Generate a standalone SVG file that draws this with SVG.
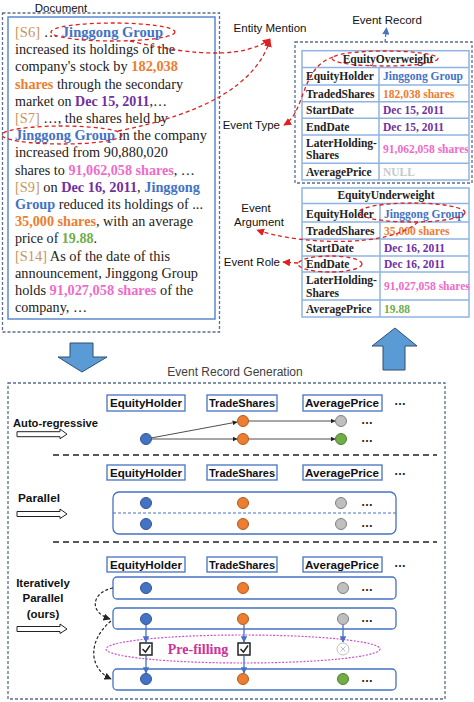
<svg xmlns="http://www.w3.org/2000/svg" width="474" height="702" viewBox="0 0 474 702">
<defs>
<style>
.doc{font-family:"Liberation Serif","Times New Roman",serif;font-size:14.5px;fill:#222}
.tb{font-family:"Liberation Serif","Times New Roman",serif;font-size:11.5px;font-weight:bold;fill:#222}
.sl{fill:#C8955C}
.bl{fill:#4472C4;font-weight:bold}
.or{fill:#ED7D31;font-weight:bold}
.pu{fill:#7030A0;font-weight:bold}
.pk{fill:#F06BC9;font-weight:bold}
.gr{fill:#70AD47;font-weight:bold}
.nu{fill:#C8C8C8;font-weight:bold}
.lab{font-family:"Liberation Sans",Arial,sans-serif;font-size:11.5px;fill:#111}
.sec{font-family:"Liberation Sans",Arial,sans-serif;font-size:11.5px;font-weight:bold;fill:#111}
.gen{font-family:"Liberation Sans",Arial,sans-serif;font-size:12px;fill:#404040}
.ob{fill:none;stroke:#5A6E8C;stroke-width:1.3;stroke-dasharray:3 2}
.tbl{fill:#fff;stroke:#8EB4E3;stroke-width:1.5}
.red{fill:none;stroke:#E02020;stroke-width:1.3;stroke-dasharray:4 3}
.kb{fill:#fff;stroke:#4472C4;stroke-width:1.3}
.row{fill:#fff;stroke:#4472C4;stroke-width:1.3}
.nb{fill:#4472C4;stroke:#2F5597;stroke-width:1}
.no{fill:#ED7D31;stroke:#AE5A21;stroke-width:1}
.ng{fill:#BFBFBF;stroke:#7F7F7F;stroke-width:1}
.nn{fill:#70AD47;stroke:#507E32;stroke-width:1}
.sep{stroke:#222;stroke-width:1.5;stroke-dasharray:6 4}
.dots{font-family:"Liberation Sans",Arial,sans-serif;font-size:12px;font-weight:bold;fill:#222}
.hol{fill:#fff;stroke:#222;stroke-width:1}
.blk{fill:#5B9BD5;stroke:#2E4F70;stroke-width:1}
</style>
<marker id="mr" viewBox="0 0 10 10" refX="9" refY="5" markerWidth="6" markerHeight="6" orient="auto"><path d="M0 0 L10 5 L0 10 Z" fill="#E02020"/></marker>
<marker id="mk" viewBox="0 0 10 10" refX="9" refY="5" markerWidth="6" markerHeight="6" orient="auto"><path d="M0 0 L10 5 L0 10 Z" fill="#222"/></marker>
<marker id="mb" viewBox="0 0 10 10" refX="9" refY="5" markerWidth="5" markerHeight="5" orient="auto"><path d="M0 0 L10 5 L0 10 Z" fill="#4472C4"/></marker>
<marker id="mu" viewBox="0 0 10 10" refX="9" refY="5" markerWidth="6" markerHeight="6" orient="auto"><path d="M0 0 L10 5 L0 10 Z" fill="#4472C4"/></marker>
</defs>
<rect width="474" height="702" fill="#fff"/>

<g id="document">
<text x="61" y="12" class="lab" text-anchor="middle" font-size="12">Document</text>
<rect x="2.5" y="13" width="217" height="319" class="ob"/>
<rect x="8" y="17" width="207" height="302" fill="none" stroke="#5B8BD0" stroke-width="1.5"/>
<text class="doc" x="15" y="37" textLength="148" lengthAdjust="spacingAndGlyphs"><tspan class="sl">[S6]</tspan> … <tspan class="bl">Jinggong Group</tspan></text>
<text class="doc" x="15" y="54.2" textLength="160" lengthAdjust="spacingAndGlyphs">increased its holdings of the</text>
<text class="doc" x="15" y="71.4" textLength="163" lengthAdjust="spacingAndGlyphs">company's stock by <tspan class="or">182,038</tspan></text>
<text class="doc" x="15" y="88.6" textLength="168" lengthAdjust="spacingAndGlyphs"><tspan class="or">shares</tspan> through the secondary</text>
<text class="doc" x="15" y="105.8" textLength="152" lengthAdjust="spacingAndGlyphs">market on <tspan class="pu">Dec 15, 2011</tspan>,…</text>
<text class="doc" x="15" y="123" textLength="153" lengthAdjust="spacingAndGlyphs"><tspan class="sl">[S7]</tspan> …, the shares held by</text>
<text class="doc" x="15" y="140.2" textLength="192" lengthAdjust="spacingAndGlyphs"><tspan class="bl">Jinggong Group</tspan> in the company</text>
<text class="doc" x="15" y="157.4" textLength="153" lengthAdjust="spacingAndGlyphs">increased from 90,880,020</text>
<text class="doc" x="15" y="174.6" textLength="180" lengthAdjust="spacingAndGlyphs">shares to <tspan class="pk">91,062,058 shares</tspan>, …</text>
<text class="doc" x="15" y="191.8" textLength="185" lengthAdjust="spacingAndGlyphs"><tspan class="sl">[S9]</tspan> on <tspan class="pu">Dec 16, 2011</tspan>, <tspan class="bl">Jinggong</tspan></text>
<text class="doc" x="15" y="209" textLength="188" lengthAdjust="spacingAndGlyphs"><tspan class="bl">Group</tspan> reduced its holdings of ...</text>
<text class="doc" x="15" y="226.2" textLength="178" lengthAdjust="spacingAndGlyphs"><tspan class="or">35,000 shares</tspan>, with an average</text>
<text class="doc" x="15" y="243.4" textLength="82" lengthAdjust="spacingAndGlyphs">price of <tspan class="gr">19.88</tspan>.</text>
<text class="doc" x="15" y="260.6" textLength="155" lengthAdjust="spacingAndGlyphs"><tspan class="sl">[S14]</tspan> As of the date of this</text>
<text class="doc" x="15" y="277.8" textLength="183" lengthAdjust="spacingAndGlyphs">announcement, Jinggong Group</text>
<text class="doc" x="15" y="295" textLength="178" lengthAdjust="spacingAndGlyphs">holds <tspan class="pk">91,027,058 shares</tspan> of the</text>
<text class="doc" x="15" y="312.2" textLength="72" lengthAdjust="spacingAndGlyphs">company, …</text>
</g>

<g id="record-overweight">
<text x="387" y="24" class="lab" text-anchor="middle" font-size="12">Event Record</text>
<rect x="295" y="42" width="177" height="141" class="ob"/>
<rect x="302" y="50.7" width="167" height="129.3" class="tbl"/>
<g stroke="#8EB4E3" stroke-width="1.5">
<line x1="302" y1="67.5" x2="469" y2="67.5"/><line x1="302" y1="85" x2="469" y2="85"/><line x1="302" y1="101.7" x2="469" y2="101.7"/><line x1="302" y1="118.3" x2="469" y2="118.3"/><line x1="302" y1="135" x2="469" y2="135"/><line x1="302" y1="163.3" x2="469" y2="163.3"/><line x1="379" y1="67.5" x2="379" y2="180"/>
</g>
<text class="tb" x="388" y="62.5" text-anchor="middle">EquityOverweight</text>
<text class="tb" x="306" y="80">EquityHolder</text>
<text class="tb" x="306" y="97.5">TradedShares</text>
<text class="tb" x="306" y="114">StartDate</text>
<text class="tb" x="306" y="131">EndDate</text>
<text class="tb" x="306" y="146.5">LaterHolding-</text>
<text class="tb" x="306" y="159">Shares</text>
<text class="tb" x="306" y="175.5">AveragePrice</text>
<text class="tb bl" x="383" y="80">Jinggong Group</text>
<text class="tb or" x="383" y="97.5">182,038 shares</text>
<text class="tb pu" x="383" y="114">Dec 15, 2011</text>
<text class="tb pu" x="383" y="131">Dec 15, 2011</text>
<text class="tb pk" x="383" y="153">91,062,058 shares</text>
<text class="tb nu" x="383" y="175.5">NULL</text>
</g>

<g id="record-underweight">
<rect x="302" y="188" width="167" height="129" class="tbl"/>
<g stroke="#8EB4E3" stroke-width="1.5">
<line x1="302" y1="203.5" x2="469" y2="203.5"/><line x1="302" y1="222" x2="469" y2="222"/><line x1="302" y1="239" x2="469" y2="239"/><line x1="302" y1="256" x2="469" y2="256"/><line x1="302" y1="272" x2="469" y2="272"/><line x1="302" y1="300" x2="469" y2="300"/><line x1="380" y1="203.5" x2="380" y2="317"/>
</g>
<text class="tb" x="386" y="199" text-anchor="middle">EquityUnderweight</text>
<text class="tb" x="306" y="217.5">EquityHolder</text>
<text class="tb" x="306" y="234.5">TradedShares</text>
<text class="tb" x="306" y="251.5">StartDate</text>
<text class="tb" x="306" y="268">EndDate</text>
<text class="tb" x="306" y="284">LaterHolding-</text>
<text class="tb" x="306" y="296.5">Shares</text>
<text class="tb" x="306" y="313">AveragePrice</text>
<text class="tb bl" x="384" y="217.5">Jinggong Group</text>
<text class="tb or" x="384" y="234.5">35,000 shares</text>
<text class="tb pu" x="384" y="251.5">Dec 16, 2011</text>
<text class="tb pu" x="384" y="268">Dec 16, 2011</text>
<text class="tb pk" x="384" y="290">91,027,058 shares</text>
<text class="tb gr" x="384" y="313">19.88</text>
</g>

<g id="labels">
<text x="270" y="32" class="lab" text-anchor="middle" font-size="12">Entity Mention</text>
<text x="280" y="129" class="lab" text-anchor="end" font-size="12">Event Type</text>
<text x="256" y="212" class="lab" text-anchor="middle" font-size="12">Event</text>
<text x="259" y="226" class="lab" text-anchor="middle" font-size="12">Argument</text>
<text x="280" y="266" class="lab" text-anchor="end" font-size="12">Event Role</text>
</g>

<g id="annotations">
<ellipse cx="113" cy="32" rx="62" ry="9" class="red"/>
<ellipse cx="62" cy="135" rx="60" ry="9" class="red"/>
<ellipse cx="385" cy="58.5" rx="53" ry="7.5" class="red"/>
<ellipse cx="412" cy="212.5" rx="53" ry="9.5" class="red"/>
<ellipse cx="330" cy="264" rx="32" ry="8" class="red"/>
<path d="M130 41 Q235 66 270 39" class="red" marker-end="url(#mr)"/>
<path d="M118 131 Q250 105 270 40" class="red" marker-end="url(#mr)"/>
<path d="M333 57 C300 68 306 112 284 125" class="red" marker-end="url(#mr)"/>
<path d="M418 222 C390 248 300 245 257 230" class="red" marker-end="url(#mr)"/>
<path d="M298 263 L283 262" class="red" marker-end="url(#mr)"/>
<path d="M385 42 L386.5 28" fill="none" stroke="#4472C4" stroke-width="1.2" stroke-dasharray="3 2" marker-end="url(#mu)"/>
</g>

<g id="block-arrows">
<path d="M70 343 H93 V357 H107 L82 372 L58 357 H70 Z" class="blk"/>
<path d="M383 370 V346 H372 L395 328 L417 346 H405 V370 Z" class="blk"/>
</g>

<g id="generation">
<text x="235" y="376" class="gen" text-anchor="middle">Event Record Generation</text>
<rect x="8" y="383" width="437" height="316" class="ob"/>
<line x1="53" y1="455" x2="437" y2="455" class="sep"/>
<line x1="53" y1="542" x2="437" y2="542" class="sep"/>
</g>

<g id="autoregressive">
<rect x="107" y="395" width="78" height="16" class="kb"/>
<rect x="207" y="395" width="70" height="16" class="kb"/>
<rect x="303" y="395" width="79" height="16" class="kb"/>
<text class="sec" x="110" y="407" textLength="72" lengthAdjust="spacingAndGlyphs">EquityHolder</text>
<text class="sec" x="209" y="407" textLength="66" lengthAdjust="spacingAndGlyphs">TradeShares</text>
<text class="sec" x="305" y="407" textLength="74" lengthAdjust="spacingAndGlyphs">AveragePrice</text>
<text class="dots" x="400" y="405" text-anchor="middle">…</text>
<text class="sec" x="13" y="427" textLength="85" lengthAdjust="spacingAndGlyphs">Auto-regressive</text>
<path d="M17 431.7 H60 V429 L67 434.2 L60 438.7 V436.7 H17 Z" class="hol"/>
<g stroke="#222" stroke-width="0.8" fill="none">
<line x1="151" y1="438" x2="237" y2="422" marker-end="url(#mk)"/>
<line x1="151.5" y1="439" x2="237" y2="439" marker-end="url(#mk)"/>
<line x1="248.5" y1="421" x2="335" y2="421" marker-end="url(#mk)"/>
<line x1="248.5" y1="439" x2="335" y2="439" marker-end="url(#mk)"/>
</g>
<circle cx="146" cy="439" r="5.5" class="nb"/>
<circle cx="243" cy="421" r="5.5" class="no"/>
<circle cx="243" cy="439" r="5.5" class="no"/>
<circle cx="341" cy="421" r="5.5" class="ng"/>
<circle cx="341" cy="439" r="5.5" class="nn"/>
<text class="dots" x="367" y="424" text-anchor="middle">…</text>
<text class="dots" x="367" y="442" text-anchor="middle">…</text>
</g>

<g id="parallel">
<rect x="107" y="465" width="78" height="15" class="kb"/>
<rect x="207" y="465" width="70" height="15" class="kb"/>
<rect x="303" y="465" width="79" height="15" class="kb"/>
<text class="sec" x="110" y="476.5" textLength="72" lengthAdjust="spacingAndGlyphs">EquityHolder</text>
<text class="sec" x="209" y="476.5" textLength="66" lengthAdjust="spacingAndGlyphs">TradeShares</text>
<text class="sec" x="305" y="476.5" textLength="74" lengthAdjust="spacingAndGlyphs">AveragePrice</text>
<text class="dots" x="400" y="475" text-anchor="middle">…</text>
<text class="sec" x="18" y="502" textLength="42" lengthAdjust="spacingAndGlyphs">Parallel</text>
<path d="M17 511.5 H60 V509 L67 514 L60 518.5 V516.5 H17 Z" class="hol"/>
<rect x="113" y="492" width="283" height="42" rx="6" class="row"/>
<line x1="113" y1="513" x2="396" y2="513" stroke="#4472C4" stroke-width="1" stroke-dasharray="3 2"/>
<circle cx="146" cy="503" r="5.5" class="nb"/>
<circle cx="243" cy="503" r="5.5" class="no"/>
<circle cx="341" cy="503" r="5.5" class="ng"/>
<circle cx="146" cy="524" r="5.5" class="nb"/>
<circle cx="243" cy="524" r="5.5" class="no"/>
<circle cx="341" cy="524" r="5.5" class="ng"/>
<text class="dots" x="367" y="506" text-anchor="middle">…</text>
<text class="dots" x="367" y="527" text-anchor="middle">…</text>
</g>

<g id="iterative">
<rect x="107" y="557" width="78" height="15" class="kb"/>
<rect x="207" y="557" width="70" height="15" class="kb"/>
<rect x="303" y="557" width="79" height="15" class="kb"/>
<text class="sec" x="110" y="568.5" textLength="72" lengthAdjust="spacingAndGlyphs">EquityHolder</text>
<text class="sec" x="209" y="568.5" textLength="66" lengthAdjust="spacingAndGlyphs">TradeShares</text>
<text class="sec" x="305" y="568.5" textLength="74" lengthAdjust="spacingAndGlyphs">AveragePrice</text>
<text class="dots" x="400" y="567" text-anchor="middle">…</text>
<text class="sec" x="43" y="587" text-anchor="middle">Iteratively</text>
<text class="sec" x="43" y="602" text-anchor="middle">Parallel</text>
<text class="sec" x="43" y="618" text-anchor="middle">(ours)</text>
<path d="M17 626.5 H60 V624 L67 629 L60 633.5 V631.5 H17 Z" class="hol"/>
<rect x="113" y="577" width="283" height="22" rx="4" class="row"/>
<rect x="113" y="608" width="283" height="21" rx="4" class="row"/>
<rect x="113" y="669" width="283" height="21" rx="4" class="row"/>
<ellipse cx="243" cy="649" rx="137" ry="14" fill="none" stroke="#D04FD0" stroke-width="1.2" stroke-dasharray="2 1.5"/>
<g stroke="#4472C4" stroke-width="1.3" fill="none">
<line x1="146" y1="625" x2="146" y2="642" marker-end="url(#mb)"/>
<line x1="146" y1="656" x2="146" y2="673" marker-end="url(#mb)"/>
<line x1="244" y1="625" x2="244" y2="642" marker-end="url(#mb)"/>
<line x1="244" y1="656" x2="244" y2="673" marker-end="url(#mb)"/>
<line x1="343" y1="625" x2="343" y2="642" marker-end="url(#mb)"/>
</g>
<g fill="none" stroke="#222" stroke-width="1.2" stroke-dasharray="3 2">
<path d="M113 588 C92 592 88 612 110 619" marker-end="url(#mk)"/>
<path d="M111 621 C88 640 88 668 111 679" marker-end="url(#mk)"/>
</g>
<circle cx="146" cy="588" r="5.5" class="nb"/>
<circle cx="243" cy="588" r="5.5" class="no"/>
<circle cx="343" cy="588" r="5.5" class="ng"/>
<circle cx="146" cy="619" r="5.5" class="nb"/>
<circle cx="243" cy="619" r="5.5" class="no"/>
<circle cx="343" cy="619" r="5.5" class="ng"/>
<circle cx="146" cy="679" r="5.5" class="nb"/>
<circle cx="243" cy="679" r="5.5" class="no"/>
<circle cx="343" cy="679" r="5.5" class="nn"/>
<text class="dots" x="367" y="591" text-anchor="middle">…</text>
<text class="dots" x="367" y="622" text-anchor="middle">…</text>
<text class="dots" x="367" y="682" text-anchor="middle">…</text>
<rect x="140" y="643" width="12" height="12" fill="#fff" stroke="#222" stroke-width="1.5"/>
<path d="M142.5 649 L145.5 652 L150 645.5" fill="none" stroke="#222" stroke-width="1.5"/>
<rect x="238" y="643" width="12" height="12" fill="#fff" stroke="#222" stroke-width="1.5"/>
<path d="M240.5 649 L243.5 652 L248 645.5" fill="none" stroke="#222" stroke-width="1.5"/>
<circle cx="343" cy="649" r="6" fill="#fff" stroke="#BFBFBF" stroke-width="1"/>
<path d="M340.5 646.5 L345.5 651.5 M345.5 646.5 L340.5 651.5" stroke="#BFBFBF" stroke-width="1"/>
<text x="198" y="654" text-anchor="middle" font-family="Liberation Serif,Times New Roman,serif" font-size="14" font-weight="bold" fill="#CC3399">Pre-filling</text>
</g>
</svg>
